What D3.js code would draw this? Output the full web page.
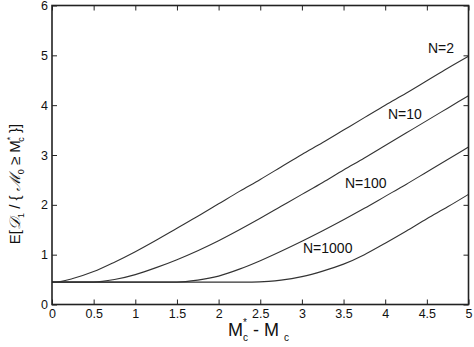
<!DOCTYPE html>
<html>
<head>
<meta charset="utf-8">
<script src="https://cdn.jsdelivr.net/npm/d3@7"></script>
<style>
  html, body { margin: 0; padding: 0; background: #fff; }
  svg { display: block; }
  text { font-family: Arial, "Liberation Sans", Helvetica, sans-serif; fill: #111; }
</style>
</head>
<body>
<svg id="chart" width="474" height="347"></svg>
<script>
// Expected value curves for several N, sampled along M*c - Mc
const xN2    = [0, 0.05, 0.25, 0.5, 0.75, 1, 1.25, 1.5, 1.75, 2, 2.25, 2.5, 2.75, 3, 3.25, 3.5, 3.75, 4, 4.25, 4.5, 4.75, 5];
const yN2    = [0.45, 0.45, 0.52, 0.66, 0.85, 1.06, 1.29, 1.53, 1.77, 2.02, 2.27, 2.51, 2.76, 3.01, 3.25, 3.50, 3.75, 4.00, 4.24, 4.49, 4.74, 4.98];
const xN10   = [0, 0.5, 0.75, 1, 1.25, 1.5, 1.75, 2, 2.25, 2.5, 2.75, 3, 3.25, 3.5, 3.75, 4, 4.25, 4.5, 4.75, 5];
const yN10   = [0.45, 0.45, 0.50, 0.60, 0.74, 0.90, 1.08, 1.28, 1.50, 1.73, 1.97, 2.21, 2.45, 2.70, 2.94, 3.19, 3.44, 3.69, 3.94, 4.19];
const xN100  = [0, 1.5, 1.75, 2, 2.25, 2.5, 2.75, 3, 3.25, 3.5, 3.75, 4, 4.25, 4.5, 4.75, 5];
const yN100  = [0.45, 0.45, 0.49, 0.57, 0.71, 0.88, 1.07, 1.27, 1.48, 1.70, 1.93, 2.17, 2.41, 2.66, 2.91, 3.16];
const xN1000 = [0, 2.4, 2.6, 2.75, 3, 3.25, 3.5, 3.75, 4, 4.25, 4.5, 4.75, 5];
const yN1000 = [0.45, 0.45, 0.465, 0.49, 0.56, 0.67, 0.81, 1.00, 1.23, 1.47, 1.72, 1.96, 2.21];

const seriesNames = ["N=2", "N=10", "N=100", "N=1000"];
const xTicks = [0, 0.5, 1, 1.5, 2, 2.5, 3, 3.5, 4, 4.5, 5];
const yTicks = [0, 1, 2, 3, 4, 5, 6];

const svg = d3.select("#chart");
const margin = { left: 52, top: 5.5, right: 5.5, bottom: 42.5 };
const W = 474, H = 347;
const iw = W - margin.left - margin.right;
const ih = H - margin.top - margin.bottom;

const x = d3.scaleLinear().domain([0, 5]).range([0, iw]);
const y = d3.scaleLinear().domain([0, 6]).range([ih, 0]);

const g = svg.append("g").attr("transform", `translate(${margin.left},${margin.top})`);

const series = [
  { name: seriesNames[0], xs: xN2,    ys: yN2,    lx: 428, ly: 53 },
  { name: seriesNames[1], xs: xN10,   ys: yN10,   lx: 388, ly: 119 },
  { name: seriesNames[2], xs: xN100,  ys: yN100,  lx: 345, ly: 188 },
  { name: seriesNames[3], xs: xN1000, ys: yN1000, lx: 303, ly: 253 }
];

const line = d3.line()
  .x(d => x(d[0]))
  .y(d => y(d[1]))
  .curve(d3.curveMonotoneX);

g.selectAll("path.curve")
  .data(series)
  .join("path")
  .attr("class", "curve")
  .attr("d", s => line(s.xs.map((v, i) => [v, s.ys[i]])))
  .attr("fill", "none")
  .attr("stroke", "#333")
  .attr("stroke-width", 1.1);

// Axes with inward ticks on all four sides
const tickFont = "12.5px";
const fmt = d3.format("~g");
const axBottom = g.append("g").attr("transform", `translate(0,${ih})`)
  .call(d3.axisBottom(x).tickValues(xTicks).tickSizeInner(-5).tickSizeOuter(0).tickPadding(5).tickFormat(fmt));
const axTop = g.append("g")
  .call(d3.axisTop(x).tickValues(xTicks).tickSizeInner(-5).tickSizeOuter(0).tickFormat(""));
const axLeft = g.append("g")
  .call(d3.axisLeft(y).tickValues(yTicks).tickSizeInner(-5).tickSizeOuter(0).tickPadding(4).tickFormat(fmt));
const axRight = g.append("g").attr("transform", `translate(${iw},0)`)
  .call(d3.axisRight(y).tickValues(yTicks).tickSizeInner(-5).tickSizeOuter(0).tickFormat(""));

[axBottom, axTop, axLeft, axRight].forEach(a => {
  a.select(".domain").remove();
  a.selectAll(".tick line").attr("stroke", "#222").attr("stroke-width", 1);
  a.selectAll(".tick text").style("font-size", tickFont)
    .style("font-family", "Arial, 'Liberation Sans', sans-serif").attr("fill", "#000");
});

// Frame
g.append("rect")
  .attr("x", 0).attr("y", 0).attr("width", iw).attr("height", ih)
  .attr("fill", "none").attr("stroke", "#222").attr("stroke-width", 1.6);

// Curve labels
svg.selectAll("text.lab")
  .data(series)
  .join("text")
  .attr("class", "lab")
  .attr("x", s => s.lx)
  .attr("y", s => s.ly)
  .style("font-size", "14px")
  .text(s => s.name);

// X axis title: M*c - Mc (star and subscript stacked after the first M)
const xTitle = svg.append("g");
xTitle.append("text").attr("x", 228).attr("y", 336).style("font-size", "18px").text("M");
xTitle.append("text").attr("x", 243).attr("y", 326).style("font-size", "10px").text("*");
xTitle.append("text").attr("x", 243).attr("y", 341).style("font-size", "10px").text("c");
xTitle.append("text").attr("x", 253).attr("y", 336).style("font-size", "18px").text("- M");
xTitle.append("text").attr("x", 284).attr("y", 341).style("font-size", "10px").text("c");

// Y axis title: E[D1 / { M0 >= M*c }]
const yt = svg.append("text")
  .attr("transform", "translate(20,184) rotate(-90)")
  .attr("text-anchor", "middle")
  .style("font-size", "15px");
yt.append("tspan").text("E[");
yt.append("tspan").style("font-family", "'DejaVu Serif', serif").style("font-style", "italic").text("\u{1D49F}");
yt.append("tspan").attr("dy", 4).style("font-size", "9px").text("1");
yt.append("tspan").attr("dy", -4).text(" / { ");
yt.append("tspan").style("font-family", "'DejaVu Serif', serif").style("font-style", "italic").text("\u2133");
yt.append("tspan").attr("dy", 4).style("font-size", "9px").text("0");
yt.append("tspan").attr("dy", -4).text(" \u2265 M");
yt.append("tspan").attr("dy", -7).style("font-size", "9px").text("*");
yt.append("tspan").attr("dy", 11).attr("dx", -5).style("font-size", "9px").text("c");
yt.append("tspan").attr("dy", -4).text(" }]");
</script>
</body>
</html>
